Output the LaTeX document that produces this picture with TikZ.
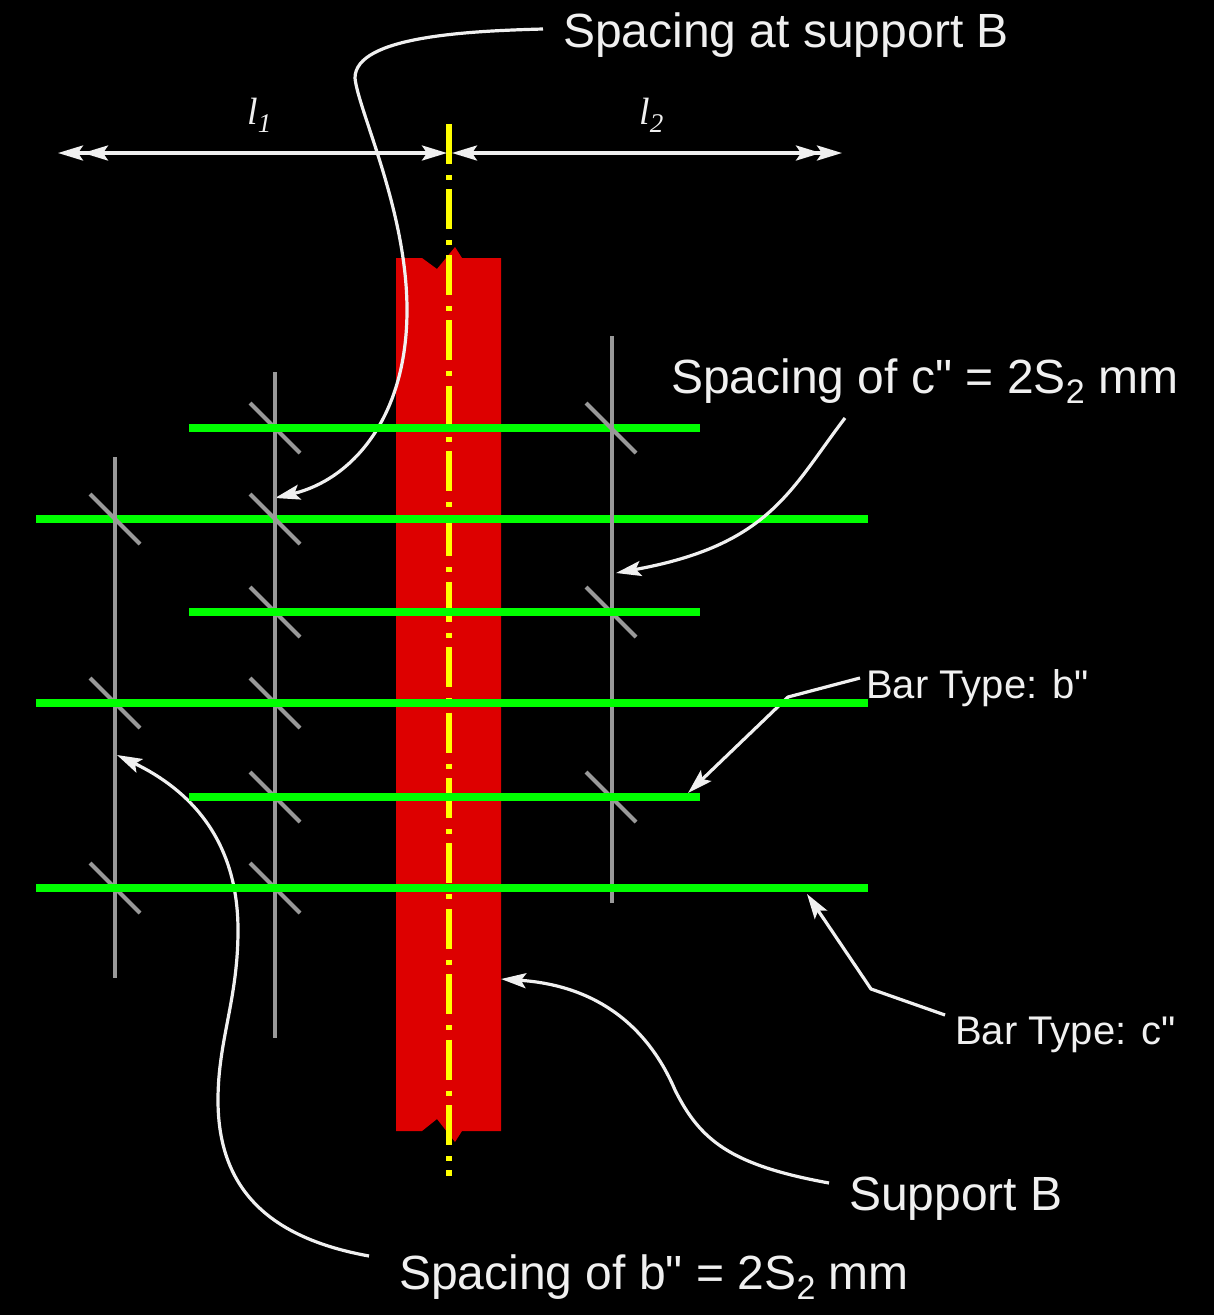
\documentclass[tikz,border=0pt]{standalone}
\usepackage{fontspec}
\newfontfamily\lsans{Liberation Sans}
\newfontfamily\serifit{Liberation Serif}
\usetikzlibrary{arrows.meta}
\definecolor{lineW}{HTML}{F0F0F0}
\definecolor{barG}{HTML}{00FF00}
\definecolor{suppR}{HTML}{DD0000}
\definecolor{axisY}{HTML}{FFFF00}
\definecolor{rodG}{HTML}{999999}
\newcommand{\lowsub}[2]{\raisebox{-0.22em}{\fontsize{#1}{#1}\selectfont #2}}
\tikzset{
  x=1pt,y=-1pt,
  hdtip/.tip={Stealth[length=25pt,width=15pt,inset=5pt,fill=lineW]},
  leader/.style={draw=lineW,line width=3.2pt,line join=round,-{hdtip}},
  dimL/.style={draw=lineW,line width=3.4pt,{hdtip[sep=-4pt]hdtip}-{hdtip}},
  dimR/.style={draw=lineW,line width=3.4pt,{hdtip}-{hdtip[sep=-4pt]hdtip}},
  bar/.style={draw=barG,line width=7.5pt},
  rod/.style={draw=rodG,line width=4pt},
  tick/.style={draw=rodG,line width=4pt},
  axis/.style={draw=axisY,line width=5.6pt,dash pattern=on 40pt off 11pt on 5pt off 9.4pt},
  big/.style={text=lineW,anchor=base west,inner sep=0pt,font=\lsans\fontsize{48}{48}\selectfont},
  small/.style={text=lineW,anchor=base west,inner sep=0pt,font=\lsans\fontsize{40}{40}\selectfont},
  ital/.style={text=lineW,anchor=base west,inner sep=0pt,font=\serifit\itshape\fontsize{38}{38}\selectfont},
}
\begin{document}
\begin{tikzpicture}
\useasboundingbox (0,0) rectangle (1214,1315);
\fill[black] (0,0) rectangle (1214,1315);
% support
\fill[suppR] (396,258) -- (422,258) -- (437,269) -- (455,247) -- (462,258) -- (501,258)
  -- (501,1131) -- (462,1131) -- (455,1142) -- (437,1119) -- (422,1131) -- (396,1131) -- cycle;
% axis
\coordinate (axT) at (448.7,124); \coordinate (axB) at (448.7,1176);
\draw[axis] (axT) -- (axB);
% text
\node[big] (tSup) at (563,47.5) {Spacing at support B};
\node[big] (tC) at (671,393) {Spacing of c" = 2S\lowsub{34}{2} mm};
\node[small] (tBb) at (866,698) {Bar Type: b"};
\node[small] (tBc) at (955,1044) {Bar Type: c"};
\node[big] (tSB) at (849,1210) {Support B};
\node[big] (tSb) at (399,1289) {Spacing of b" = 2S\lowsub{34}{2} mm};
\node[ital] (tL1) at (247,124) {l\lowsub{27}{1}};
\node[ital] (tL2) at (639,124) {l\lowsub{27}{2}};
% white leaders
\coordinate (dL) at (62,153); \coordinate (dMl) at (447,153);
\coordinate (dMr) at (452,153); \coordinate (dR) at (842,153);
\draw[dimL] (dL) -- (dMl);
\draw[dimR] (dMr) -- (dR);
\coordinate (a1s) at (543,29); \coordinate (a1e) at (275,498);
\draw[leader] (a1s) .. controls (470,31) and (355,36) .. (355,78)
  .. controls (358,110) and (407,210) .. (407,310)
  .. controls (407,420) and (350,480) .. (a1e);
\coordinate (a3s) at (369,1256); \coordinate (a3e) at (117,755);
\draw[leader] (a3s) .. controls (270,1238) and (218,1190) .. (218,1100)
  .. controls (218,1040) and (238,1000) .. (238,930)
  .. controls (238,840) and (190,790) .. (a3e);
\coordinate (a4s) at (829,1183); \coordinate (a4e) at (501,979);
\draw[leader] (a4s) .. controls (730,1165) and (700,1140) .. (675,1090)
  .. controls (645,1020) and (590,985) .. (a4e);
\coordinate (a5s) at (945,1015); \coordinate (a5m) at (871,989); \coordinate (a5e) at (807,894);
\draw[leader] (a5s) -- (a5m) -- (a5e);
\coordinate (a6s) at (860,678); \coordinate (a6m) at (788,697); \coordinate (a6e) at (688,793);
\draw[leader] (a6s) -- (a6m) -- (a6e);
% bar below the rods
\draw[bar] (36,519) -- (868,519);
% rods
\coordinate (r1t) at (115,457); \coordinate (r1b) at (115,978);
\coordinate (r2t) at (275,372); \coordinate (r2b) at (275,1038);
\coordinate (r3t) at (611.5,336); \coordinate (r3b) at (611.5,903);
\draw[rod] (r1t) -- (r1b);
\draw[rod] (r2t) -- (r2b);
\draw[rod] (r3t) -- (r3b);
\foreach \px/\py in {115/519,115/703,115/888,275/428,275/519,275/612,275/703,275/797,275/888,611/612,611/797}
  \draw[tick] (\px-25,\py-25) -- (\px+25,\py+25);
% bars over the rods
\foreach \py in {428,612,797} \draw[bar] (189,\py) -- (700,\py);
\foreach \py in {703,888} \draw[bar] (36,\py) -- (868,\py);
% rod crossing over the top bar at the right
\draw[tick] (586,403) -- (636,453);
\draw[rod] (611.5,420) -- (611.5,436);
% leader over the bar
\coordinate (a2s) at (845,418); \coordinate (a2e) at (616,573);
\draw[leader] (a2s) .. controls (790,490) and (770,545) .. (a2e);
\end{tikzpicture}
\end{document}
